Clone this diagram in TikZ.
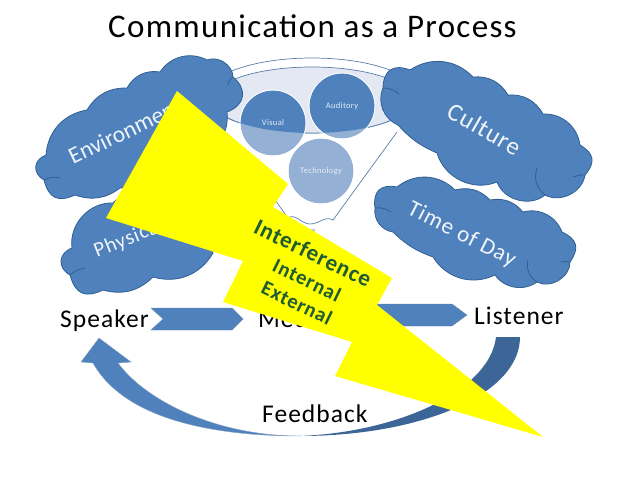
\documentclass[tikz,border=0pt]{standalone}
\usepackage{fontspec}
\setmainfont{Carlito}[LetterSpace=4]
\definecolor{cloudblue}{HTML}{4F81BD}
\definecolor{cloudedge}{HTML}{2F5F93}
\definecolor{funnelpale}{HTML}{E3E8F2}
\definecolor{circlepale}{HTML}{95B0D5}
\definecolor{stemgrey}{HTML}{C3CCDB}
\definecolor{darkblue}{HTML}{3C6698}
\definecolor{boltgreen}{HTML}{1F5B33}
\definecolor{boltyellow}{HTML}{FFFF00}
\tikzset{
  cloudshape/.style={fill=cloudblue,draw=cloudedge,line width=0.8pt},
  foldline/.style={draw=cloudedge,line width=0.8pt},
  cloudtext/.style={anchor=base west,inner sep=0pt,text=white!92!cloudblue,font=\fontsize{25}{25}\selectfont},
  circletext/.style={text=white!85!cloudblue,font=\fontsize{8.5}{9}\selectfont},
  bigtext/.style={anchor=base west,inner sep=0pt,text=black,font=\fontsize{25.5}{26}\selectfont},
  bolttext/.style={text=boltgreen,font=\bfseries\fontsize{20.5}{21}\selectfont,rotate=-26},
  funnelline/.style={draw=cloudedge!80,line width=0.7pt},
  lobe/.style={bend left=#1,looseness=1.4},
}
\begin{document}
\begin{tikzpicture}[x=1pt,y=-1pt]
\useasboundingbox (0,0) rectangle (638,479);
%% title
\node (title) at (108,37.5) [anchor=base west,inner sep=0pt,text=black,font=\fontsize{33}{33}\selectfont] {Communication as a Process};
%% funnel
\coordinate (conel) at (227,133);
\coordinate (coner) at (397,132);
\fill[stemgrey] (296,229) rectangle (315,245);
\draw[funnelline,fill=white] (312,95.5) ellipse [x radius=106,y radius=37.5];
\draw[funnelline,fill=funnelpale] (312,100) ellipse [x radius=100,y radius=33];
\draw[funnelline] (conel) -- (288,218) to[out=35,in=180] (310,224) to[out=0,in=150] (333,220) -- (coner);
%% circles
\foreach \x/\y in {273/123, 342/106, 321/171} {
  \fill[circlepale] (\x,\y) circle [radius=32.5];
}
\begin{scope}
\clip (312,100) ellipse [x radius=100,y radius=33];
\fill[cloudblue] (273,123) circle [radius=32.5];
\fill[cloudblue] (342,106) circle [radius=32.5];
\end{scope}
\foreach \x/\y in {273/123, 342/106, 321/171} {
  \draw[white,line width=0.8pt] (\x,\y) circle [radius=33];
}
\foreach \nodename/\x/\y/\txt in {visual/273/123/Visual, auditory/342/106/Auditory, tech/321/171/Technology} {
  \node (\nodename) at (\x,\y) [circletext] {\txt};
}
%% clouds
\draw[cloudshape] (46,155) to[bend left=38] (87,110) to[bend left=30] (127,88) to[bend left=35] (160,72)
  to[bend left=42] (207,60) to[bend left=55] (233,77) to[lobe=60] (227,112) to[bend left=30] (210,150)
  to[bend left=25] (120,188) to[bend left=28] (75,195) to[lobe=50] (44,180) to[lobe=65] (46,155) -- cycle;
\draw[cloudshape] (72,248) to[bend left=50] (113,203) to[bend left=30] (160,190) to[bend left=40] (213,253)
  to[bend left=38] (153,277) to[bend left=30] (103,290) to[lobe=50] (70,275) to[lobe=65] (72,248) -- cycle;
\draw[cloudshape] (410,70) to[bend left=40] (473,77) to[bend left=32] (508,95) to[bend left=32] (543,114)
  to[bend left=42] (580,145) to[lobe=50] (585,175) to[bend left=55] (545,195) to[bend left=55] (497,182)
  to[bend left=48] (437,153) to[bend left=12] (398,125) to[bend left=45] (383,88) to[lobe=55] (410,70) -- cycle;
\draw[cloudshape] (397,187) to[bend left=42] (455,190) to[bend left=30] (490,200) to[bend left=30] (523,212)
  to[bend left=42] (562,232) to[lobe=50] (570,262) to[bend left=60] (537,282) to[bend left=45] (495,275)
  to[bend left=42] (433,257) to[bend left=12] (393,232) to[bend left=45] (375,208) to[lobe=55] (397,187) -- cycle;
%% folds
\path[foldline] (44,180) to[bend left=20] (60,178);
\path[foldline] (70,275) to[bend left=15] (85,268);
\path[foldline] (233,77) to[bend right=25] (228,85);
\path[foldline] (383,88) to[bend left=20] (399,94);
\path[foldline] (375,208) to[bend left=20] (391,212);
\path[foldline] (545,195) to[bend left=35] (537,168);
\path[foldline] (585,175) to[bend right=10] (573,177);
\path[foldline] (537,282) to[bend left=35] (528,260);
\path[foldline] (570,262) to[bend right=10] (561,262);
%% cloud labels
\node (environment) at (73,165) [cloudtext,rotate=25.5,font=\addfontfeature{LetterSpace=0}\fontsize{23.5}{24}\selectfont] {Environment};
\node (physical) at (97,258) [cloudtext,rotate=22,font=\fontsize{21}{21}\selectfont] {Physical};
\node (culture) at (445,116) [cloudtext,rotate=-30] {Culture};
\node (timeofday) at (406,213) [cloudtext,rotate=-27,font=\fontsize{23}{23}\selectfont] {Time of Day};
%% row of labels
\node (speaker) at (60,327) [bigtext] {Speaker};
\node (medium) at (258,327) [bigtext] {Medium};
\node (listener) at (474,324) [bigtext] {Listener};
\node (feedback) at (262,422) [bigtext] {Feedback};
%% block arrows
\fill[cloudblue,draw=cloudedge!70] (151,308) -- (232,308) -- (243,319) -- (232,330) -- (151,330) -- (163,319) -- cycle;
\fill[cloudblue,draw=cloudedge!70] (350,304) -- (452,304) -- (467,315) -- (452,326) -- (350,326) -- (362,315) -- cycle;
%% feedback arrow
\coordinate (bottom) at (300,436);
\fill[darkblue] (520,337) .. controls (520,395) and (420,436) .. (bottom) .. controls (400,432) and (490,390) .. (496,337) -- cycle;
\fill[cloudblue,draw=cloudedge!60] (bottom) .. controls (215,436) and (125,420) .. (93,363) -- (81,362) -- (99,338) -- (131,362) -- (118,363) .. controls (145,400) and (215,436) .. (bottom) -- cycle;
%% lightning
\fill[boltyellow] (177,91) -- (288,184) -- (273,207) -- (392,278) -- (377,305) -- (543,437)
  -- (335,376) -- (352,342) -- (223,302) -- (243,261) -- (106,218) -- cycle;
\node (interference) at (313,253) [bolttext,font=\bfseries\fontsize{23}{23}\selectfont] {Interference};
\node (internal) at (307,280) [bolttext] {Internal};
\node (external) at (297,303) [bolttext] {External};
\end{tikzpicture}
\end{document}
